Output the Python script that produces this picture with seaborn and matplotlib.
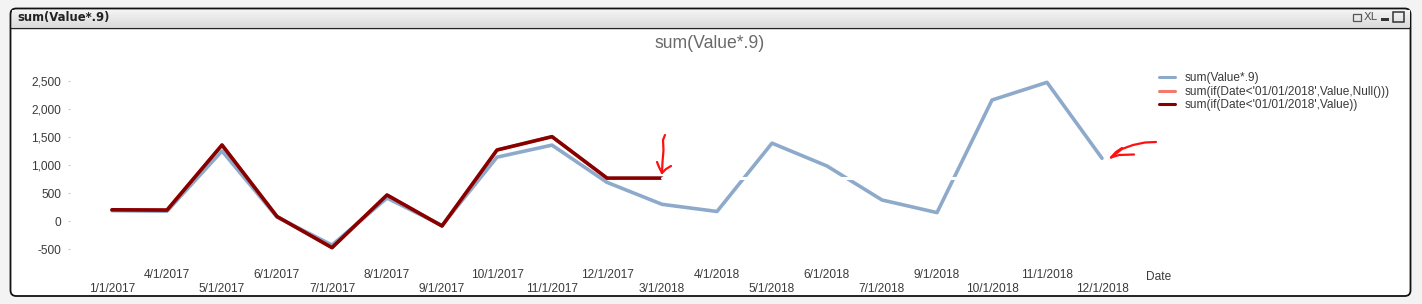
import numpy as np
import pandas as pd
import matplotlib
matplotlib.use("Agg")
import matplotlib.pyplot as plt
import seaborn as sns
from matplotlib.patches import FancyBboxPatch, Rectangle
from matplotlib.lines import Line2D

# ---------------- data ----------------
dates = ["1/1/2017", "4/1/2017", "5/1/2017", "6/1/2017", "7/1/2017", "8/1/2017",
         "9/1/2017", "10/1/2017", "11/1/2017", "12/1/2017", "3/1/2018", "4/1/2018",
         "5/1/2018", "6/1/2018", "7/1/2018", "9/1/2018", "10/1/2018", "11/1/2018",
         "12/1/2018"]
value_09 = [185, 175, 1250, 70, -430, 410, -80, 1140, 1355, 690, 298, 170,
            1390, 982, 375, 150, 2160, 2476, 1120]
value_null = [200, 195, 1357, 80, -476, 464, -89, 1268, 1506, 766, np.nan, np.nan,
              np.nan, np.nan, np.nan, np.nan, np.nan, np.nan, np.nan]
value_if = [200, 195, 1357, 80, -476, 464, -89, 1268, 1506, 766, 766, np.nan,
            np.nan, np.nan, np.nan, np.nan, np.nan, np.nan, np.nan]
# white break-through series drawn over the blue line (rendering artefact in the original)
value_mask = [np.nan] * 10 + [772] * 9
y_ticks = [-500, 0, 500, 1000, 1500, 2000, 2500]

series_labels = ["sum(Value*.9)",
                 "sum(if(Date<'01/01/2018',Value,Null()))",
                 "sum(if(Date<'01/01/2018',Value))"]
chart_title = "sum(Value*.9)"

BLUE = "#8eaacb"
SALMON = "#f4786b"
DARKRED = "#870000"
TEXT = "#3a3a3a"

sns.set_theme(style="white")
plt.rcParams["font.family"] = ["Liberation Sans", "DejaVu Sans"]

W, H = 1422, 304
fig = plt.figure(figsize=(W / 100, H / 100), dpi=100)
fig.patch.set_facecolor("#f3f3f3")


def fx(x):
    return x / W


def fy(y):
    return 1 - y / H


# ---------------- window frame ----------------
frame = FancyBboxPatch((fx(10.5), fy(296)), fx(1400), (296 - 8.5) / H,
                       boxstyle="round,pad=0,rounding_size=0.004",
                       transform=fig.transFigure, facecolor="white",
                       edgecolor="#111111", lw=1.3, zorder=-5,
                       mutation_aspect=W / H)
fig.patches.append(frame)

# title bar gradient
tb = fig.add_axes([fx(11.5), fy(27), fx(1398), (27 - 9.5) / H])
tb.set_zorder(-1)
grad = np.linspace(0.96, 0.86, 50).reshape(-1, 1)
tb.imshow(grad, aspect="auto", cmap="gray", vmin=0, vmax=1, extent=[0, 1, 0, 1])
tb.axis("off")
fig.add_artist(Line2D([fx(11), fx(1410)], [fy(27.5), fy(27.5)],
                      transform=fig.transFigure, color="#222222", lw=1.0))
fig.text(fx(17), fy(18), "sum(Value*.9)", fontsize=8.4, fontweight="bold",
         family="DejaVu Sans", color="#222222", va="center", ha="left")
# window icons
fig.text(fx(1371), fy(17.5), "XL", fontsize=8, color="#555555", va="center",
         ha="center", family="DejaVu Sans")
fig.patches.append(Rectangle((fx(1353), fy(21)), fx(8), 7 / H, transform=fig.transFigure,
                             facecolor="none", edgecolor="#555555", lw=0.9))
fig.patches.append(Rectangle((fx(1381), fy(21)), fx(8), 2.5 / H, transform=fig.transFigure,
                             facecolor="#333333", edgecolor="none"))
fig.patches.append(Rectangle((fx(1393), fy(22)), fx(11), 10 / H, transform=fig.transFigure,
                             facecolor="none", edgecolor="#333333", lw=1.1))

# ---------------- chart axes ----------------
ax_left, ax_right = 70, 1129.5
ax_top, ax_bot = 61.4, 263.0
ax = fig.add_axes([fx(ax_left), fy(ax_bot), fx(ax_right - ax_left), (ax_bot - ax_top) / H])
ax.set_zorder(2)
ax.set_facecolor("none")

pos = np.arange(len(dates))
df = pd.DataFrame({"pos": pos, "v09": value_09, "vnull": value_null,
                   "vif": value_if, "mask": value_mask})

sns.lineplot(data=df, x="pos", y="v09", color=BLUE, lw=2.6, ax=ax,
             label=series_labels[0], estimator=None)
sns.lineplot(data=df.dropna(subset=["vnull"]), x="pos", y="vnull", color=SALMON,
             lw=2.4, ax=ax, label=series_labels[1], estimator=None)
sns.lineplot(data=df.dropna(subset=["vif"]), x="pos", y="vif", color=DARKRED,
             lw=2.6, ax=ax, label=series_labels[2], estimator=None)
sns.lineplot(data=df.dropna(subset=["mask"]), x="pos", y="mask", color="white",
             lw=2.2, ax=ax, estimator=None, legend=False)

ax.set_xlim(-0.5 - (84.5 - 70) / 55, 18.5)
ax.set_ylim(-750, 2850)
for s in ax.spines.values():
    s.set_visible(False)

ax.set_yticks(y_ticks)
ax.set_yticklabels([f"{t:,}" for t in y_ticks])
ax.tick_params(axis="y", left=True, length=1.5, width=0.8, color="#c8c8c8",
               pad=5, labelsize=8.6, labelcolor=TEXT)
ax.set_xticks([])
ax.set_xlabel("")
ax.set_ylabel("")

# staggered category labels
for i, d in enumerate(dates):
    ypx = 289.5 if i % 2 == 0 else 274.5
    ax.text(i, (ax_bot - ypx) / (ax_bot - ax_top), d, transform=ax.get_xaxis_transform(),
            ha="center", va="center", fontsize=8.6, color=TEXT, clip_on=False)
fig.text(fx(1146), fy(276.5), "Date", fontsize=8.6, color=TEXT, ha="left", va="center")

# chart title
fig.text(fx(710), fy(43.5), chart_title, fontsize=12.7, color="#6a6a6a",
         ha="center", va="center")

# legend
handles, labels = ax.get_legend_handles_labels()
ax.legend_.remove()
leg = fig.legend(handles, labels, loc="upper left",
                 bbox_to_anchor=(fx(1159), fy(72.5)), frameon=False, fontsize=8.6,
                 handlelength=1.3, handletextpad=0.85, labelspacing=0.1,
                 borderaxespad=0, borderpad=0)
for t in leg.get_texts():
    t.set_color(TEXT)
for l in leg.get_lines():
    l.set_linewidth(2.2)

# hand-drawn red arrows (annotation strokes)
def stroke(xs, ys, lw=1.6):
    fig.add_artist(Line2D([fx(x) for x in xs], [fy(y) for y in ys],
                          transform=fig.transFigure, color="#ff1010", lw=lw,
                          solid_capstyle="round", solid_joinstyle="round",
                          zorder=10))

stroke([665, 663, 663.5, 662.5, 662], [135, 140, 150, 162, 173])
stroke([657, 659, 662, 666, 671], [162, 167, 173, 169, 166])
stroke([1156, 1145, 1133, 1122, 1111], [142, 142.5, 145, 149, 157.5])
stroke([1122, 1116, 1111, 1119, 1134], [148, 152, 157.5, 155, 154.5])

fig.savefig("out.png", dpi=100, facecolor=fig.get_facecolor())
